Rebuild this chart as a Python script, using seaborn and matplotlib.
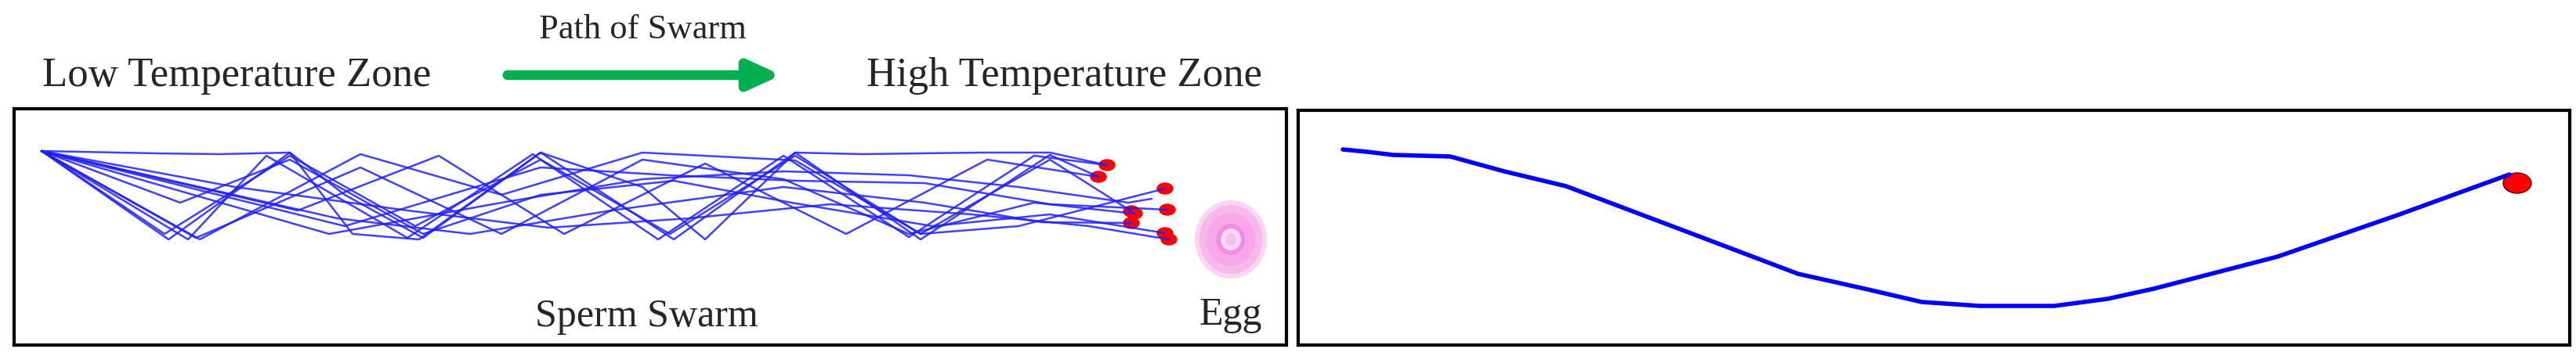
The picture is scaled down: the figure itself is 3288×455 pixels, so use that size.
import pandas as pd
import numpy as np
import matplotlib
matplotlib.use('Agg')
import matplotlib.pyplot as plt
import seaborn as sns
from matplotlib import patches

# swarm trajectories (pixel-space readings of the left panel)
path_x = [
    [53, 200, 280, 370, 440, 540, 690, 860, 1015, 1100, 1250, 1340, 1413],
    [53, 215, 370, 450, 535, 690, 820, 900, 1015, 1175, 1340, 1402],
    [53, 255, 460, 640, 820, 1015, 1175, 1300, 1487],
    [53, 440, 690, 855, 1015, 1180, 1340, 1490],
    [53, 210, 370, 530, 690, 855, 1015, 1175, 1340, 1444],
    [53, 250, 460, 640, 820, 1000, 1160, 1320, 1448],
    [53, 430, 600, 780, 1000, 1180, 1330, 1444],
    [53, 230, 370, 540, 690, 860, 1010, 1190, 1340, 1487],
    [53, 300, 520, 700, 880, 1060, 1240, 1390, 1492],
    [53, 420, 640, 820, 1000, 1160, 1300, 1440, 1470],
    [53, 240, 340, 520, 680, 840, 1000, 1160, 1320, 1413],
    [53, 380, 560, 720, 900, 1080, 1260, 1402],
]
path_y = [
    [194, 197, 198, 196, 250, 305, 196, 307, 196, 198, 196, 196, 212],
    [194, 307, 196, 300, 307, 196, 240, 307, 196, 307, 199, 227],
    [194, 307, 198, 250, 196, 206, 300, 290, 242],
    [194, 290, 215, 225, 232, 235, 262, 269],
    [194, 300, 200, 290, 205, 300, 200, 300, 205, 271],
    [194, 305, 215, 300, 205, 230, 300, 260, 274],
    [194, 280, 300, 270, 240, 260, 285, 286],
    [194, 260, 205, 300, 250, 232, 260, 290, 275, 299],
    [194, 240, 270, 292, 280, 262, 275, 290, 307],
    [194, 300, 260, 230, 220, 225, 240, 260, 255],
    [194, 307, 200, 305, 198, 307, 200, 304, 200, 212],
    [194, 270, 200, 300, 210, 300, 205, 227],
]
end_x = [1413, 1402, 1487, 1490, 1444, 1448, 1444, 1487, 1492]
end_y = [212, 227, 242, 269, 271, 274, 286, 299, 307]

# single trajectory (right panel)
curve_x = [1714, 1745, 1778, 1851, 1920, 1999, 2150, 2295, 2380, 2453, 2527, 2622, 2690, 2749, 2907, 3060, 3203]
curve_y = [192, 195, 199, 201, 220, 239, 296, 351, 370, 387, 392, 392, 383, 370, 329, 276, 224]

W, H = 3288, 456
fig = plt.figure(figsize=(W / 100, H / 100), dpi=100)
sns.set_style('white')
plt.rcParams['font.family'] = ['Liberation Serif', 'DejaVu Serif']

def panel(x0, x1, y0, y1):
    ax = fig.add_axes([x0 / W, 1 - y1 / H, (x1 - x0) / W, (y1 - y0) / H])
    ax.set_xlim(x0, x1)
    ax.set_ylim(y1, y0)
    ax.set_xticks([]); ax.set_yticks([])
    for s in ax.spines.values():
        s.set_linewidth(3); s.set_color('black')
    return ax

# header
top = fig.add_axes([0, 0, 1, 1])
top.set_xlim(0, W); top.set_ylim(H, 0); top.axis('off')
top.text(302, 97, 'Low Temperature Zone', fontsize=38, ha='center', va='center')
top.text(1358, 97, 'High Temperature Zone', fontsize=38, ha='center', va='center')
top.text(820, 38, 'Path of Swarm', fontsize=32, ha='center', va='center')
top.annotate('', xy=(1000, 97), xytext=(645, 97),
             arrowprops=dict(arrowstyle='-|>,head_length=2.4,head_width=1.1', lw=9, color='#00b050'))

# left panel
ax1 = panel(18, 1642, 140, 442)
df = pd.DataFrame([(i, x, y) for i, (xs, ys) in enumerate(zip(path_x, path_y)) for x, y in zip(xs, ys)],
                  columns=['path', 'x', 'y'])
sns.lineplot(data=df, x='x', y='y', units='path', estimator=None, sort=False,
             color='#2020ff', lw=1.8, alpha=0.85, ax=ax1, legend=False)
for x, y in zip(end_x, end_y):
    ax1.add_patch(patches.Ellipse((x, y), 20, 14, color='red'))
for r, c in [(50, '#fbd6f4'), (44, '#f8b8ee'), (34, '#f6a8ea'), (20, '#f28ee2'), (14, '#fbd8f4'), (8, '#f8c0ee')]:
    ax1.add_patch(patches.Ellipse((1571, 307), 2 * r * 0.92, 2 * r, color=c, lw=0))
ax1.text(825, 405, 'Sperm Swarm', fontsize=36, ha='center', va='center')
ax1.text(1571, 403, 'Egg', fontsize=36, ha='center', va='center')
ax1.set_xlabel(''); ax1.set_ylabel('')

# right panel
ax2 = panel(1657, 3280, 142, 442)
sns.lineplot(x=curve_x, y=curve_y, sort=False, color='blue', lw=4, ax=ax2)
ax2.add_patch(patches.Ellipse((3213, 235), 36, 26, facecolor='red', edgecolor='#600000', lw=1))

fig.savefig('out.png', dpi=100)
